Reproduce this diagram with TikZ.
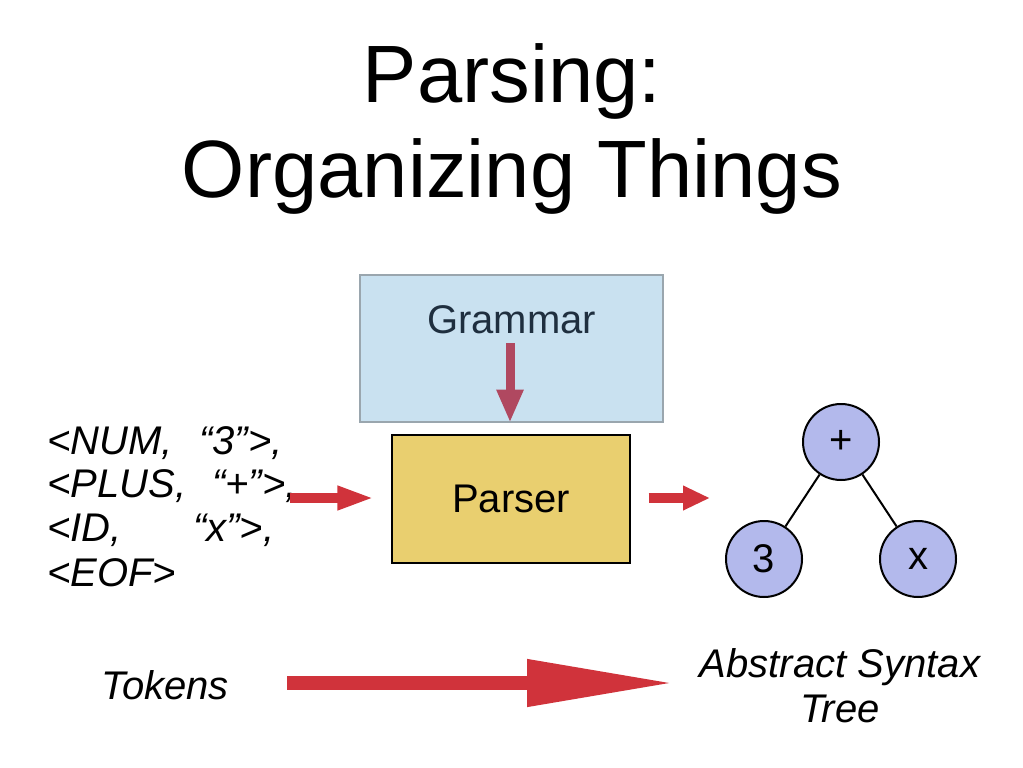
\documentclass[tikz,border=0pt]{standalone}
\usepackage{fontspec}
\setmainfont{Liberation Sans}
\usetikzlibrary{arrows.meta}
\definecolor{gfill}{HTML}{C9E1F0}
\definecolor{gdraw}{HTML}{9AA6AE}
\definecolor{gtext}{HTML}{1F2F3F}
\definecolor{pfill}{HTML}{E9CF6F}
\definecolor{cfill}{HTML}{B3B9EC}
\definecolor{ared}{HTML}{D0333B}
\definecolor{amaroon}{HTML}{B04860}
\newcommand{\bodyfont}{\fontsize{30}{36}\selectfont}
\begin{document}
\begin{tikzpicture}[x=0.75pt,y=-0.75pt,
  titletext/.style={font=\fontsize{61}{70}\selectfont, anchor=base, inner sep=0},
  body/.style={font=\bodyfont, inner sep=0},
  tok/.style={font=\bodyfont\itshape, anchor=base west, inner sep=0},
  treenode/.style={circle, draw=black, line width=1.5pt, fill=cfill, minimum size=57pt, inner sep=0, font=\bodyfont},
  redarrow/.style={draw=ared, line width=7.5pt, -{Triangle[length=27.75pt,width=16.5pt]}},
]
\useasboundingbox (0,0) rectangle (1023,767);
% title
\node[titletext] (t1) at (512,102) {Parsing:};
\node[titletext] (t2) at (512,197) {Organizing Things};
% grammar
\node[draw=gdraw, line width=1.2pt, fill=gfill, minimum width=227pt, minimum height=110pt, inner sep=0] (grammar) at (511.5,348.5) {};
\node[body, text=gtext, anchor=base] (gtxt) at (511.5,333) {Grammar};
\coordinate (gstart) at (510,343);
\draw[draw=amaroon, line width=6.75pt, -{Triangle[length=24.75pt,width=18.75pt]}] (gstart) -- (gstart |- grammar.south);
% parser
\node[draw=black, line width=1.5pt, fill=pfill, minimum width=178pt, minimum height=96pt, inner sep=0, font=\bodyfont] (parser) at (511,499) {Parser};
% tokens
\node[tok] (n1) at (47,454) {<NUM,};
\node[tok] (n1b) at (199,454) {“3”>,};
\node[tok] (n2) at (47,497) {<PLUS,};
\node[tok] (n2b) at (212,497) {“+”>,};
\node[tok] (n3) at (47,541) {<ID,};
\node[tok] (n3b) at (193,541) {“x”>,};
\node[tok] (n4) at (47,586) {<EOF>};
% arrows into/out of parser
\coordinate (la) at (290,498);
\draw[redarrow] (la) -- (parser.west |- la) [shorten >=12.75pt];
\coordinate (ra) at (710,498);
\draw[draw=ared, line width=7.5pt, -{Triangle[length=20.25pt,width=17.25pt]}, shorten <=13.5pt] (parser.east |- ra) -- (ra);
% tree
\node[treenode] (plus) at (841,442) {+};
\node[treenode] (three) at (764,559) {3};
\node[treenode] (x) at (918,559) {x};
\draw[line width=1.5pt] (plus) -- (three);
\draw[line width=1.5pt] (plus) -- (x);
% bottom
\node[body, font=\bodyfont\itshape] (tokens) at (165,685) {Tokens};
\node[body, font=\bodyfont\itshape, align=center] (ast) at (840,686) {Abstract Syntax\\[-2pt]Tree};
\coordinate (b1) at (287,683);
\coordinate (b2) at (675,683);
\draw[draw=ared, line width=10.5pt, -{Triangle[length=111pt,width=33pt]}] (b1) -- (b2);
\end{tikzpicture}
\end{document}
